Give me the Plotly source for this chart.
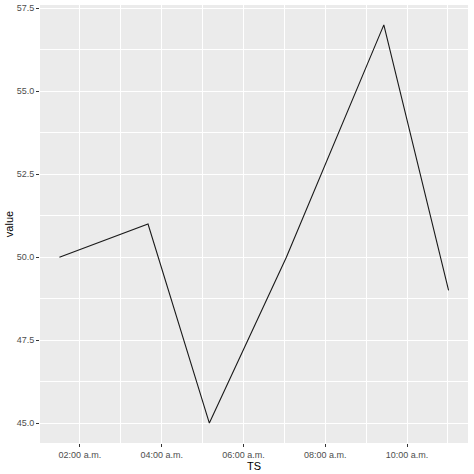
import plotly.graph_objects as go

# Data
timestamps = ["2024-01-01 01:30", "2024-01-01 03:40", "2024-01-01 05:10",
              "2024-01-01 07:03", "2024-01-01 09:26", "2024-01-01 11:01"]
values = [50, 51, 45, 50, 57, 49]

x_tickvals = ["2024-01-01 02:00", "2024-01-01 04:00", "2024-01-01 06:00",
              "2024-01-01 08:00", "2024-01-01 10:00"]
x_ticktext = ["02:00 a.m.", "04:00 a.m.", "06:00 a.m.", "08:00 a.m.", "10:00 a.m."]
y_tickvals = [45.0, 47.5, 50.0, 52.5, 55.0, 57.5]

fig = go.Figure()
fig.add_trace(go.Scatter(x=timestamps, y=values, mode="lines",
                         line=dict(color="#1a1a1a", width=1.1),
                         showlegend=False, hoverinfo="skip"))

font_family = "Liberation Sans, Arial, sans-serif"

fig.update_layout(
    width=474, height=474,
    margin=dict(l=40, r=6, t=5, b=31, autoexpand=False),
    paper_bgcolor="white",
    plot_bgcolor="#EBEBEB",
    font=dict(family=font_family, color="#4D4D4D", size=9),
    xaxis=dict(
        type="date",
        range=["2024-01-01 01:01:30", "2024-01-01 11:29:30"],
        tickvals=x_tickvals, ticktext=x_ticktext,
        showgrid=True, gridcolor="white", gridwidth=1.1,
        ticks="outside", ticklen=3, tickcolor="#333333", tickwidth=1,
        tickfont=dict(size=9, color="#4D4D4D"),
        zeroline=False, showline=False,
        minor=dict(tick0="2024-01-01 01:00", dtick=7200000, showgrid=True,
                   gridcolor="white", gridwidth=0.5, ticks=""),
        title=dict(text="TS", font=dict(size=11, color="black"), standoff=3),
        automargin=False,
    ),
    yaxis=dict(
        range=[44.4, 57.6],
        tickvals=y_tickvals, tickformat=".1f",
        showgrid=True, gridcolor="white", gridwidth=1.1,
        ticks="outside", ticklen=3, tickcolor="#333333", tickwidth=1,
        tickfont=dict(size=9, color="#4D4D4D"),
        zeroline=False, showline=False,
        minor=dict(tick0=46.25, dtick=2.5, showgrid=True,
                   gridcolor="white", gridwidth=0.5, ticks=""),
        title=dict(text="value", font=dict(size=11, color="black"), standoff=0),
        automargin=False,
    ),
)

fig.write_html("out.html", config={"displayModeBar": False},
               post_script="document.body.style.margin='0';document.body.style.overflow='hidden';")
